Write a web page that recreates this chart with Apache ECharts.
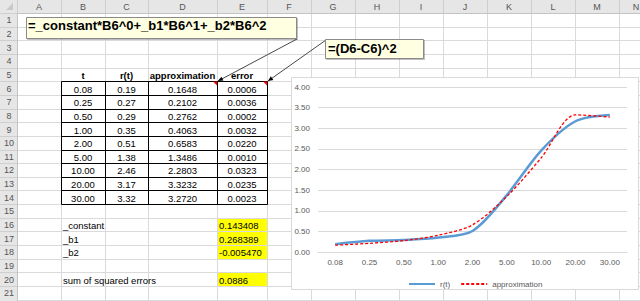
<!DOCTYPE html>
<html><head><meta charset="utf-8">
<script src="https://cdn.jsdelivr.net/npm/echarts@6/dist/echarts.min.js"></script>
<style>html,body{margin:0;padding:0;background:#fff}#c{width:640px;height:301px}</style>
</head><body><div id="c"></div>
<script>
// ---- data ----
const tValues = ['0.08','0.25','0.50','1.00','2.00','5.00','10.00','20.00','30.00'];
const rValues = [0.19,0.27,0.29,0.35,0.51,1.38,2.46,3.17,3.32];
const approxValues = [0.1648,0.2102,0.2762,0.4063,0.6583,1.3486,2.2803,3.3232,3.2720];
const errorValues = [0.0006,0.0036,0.0002,0.0032,0.0220,0.0010,0.0323,0.0235,0.0023];
const tableHeaders = ['t','r(t)','approximation','error'];
const paramLabels = ['_constant','_b1','_b2'];
const paramValues = ['0.143408','0.268389','-0.005470'];
const sseLabel = 'sum of squared errors';
const sseValue = '0.0886';
const seriesNames = ['r(t)','approximation'];
const formula1 = '=_constant*B6^0+_b1*B6^1+_b2*B6^2';
const formula2 = '=(D6-C6)^2';
const columnLetters = ['A','B','C','D','E','F','G','H','I','J','K','L','M','N'];

// ---- layout ----
const W = 640, H = 301;
const colEdges = [0,17,61,105,148,217,267,311,355,399,443,487,531,575,619,663];
const headerH = 13, rowH = 13.65, nRows = 22;
const rowTop = n => headerH + (n - 1) * rowH;
const colL = c => colEdges[c + 1]; // c: 0=A
const colR = c => colEdges[c + 2];
const cellFont = '9.5px "Liberation Sans", Arial, sans-serif';
const g = [];

g.push({type:'rect', shape:{x:0,y:0,width:W,height:H}, style:{fill:'#ffffff'}, silent:true});
// grid lines
for (let n = 1; n <= nRows; n++) {
  const y = Math.round(rowTop(n)) + 0.5;
  g.push({type:'line', shape:{x1:17,y1:y,x2:W,y2:y}, style:{stroke:'#dadada',lineWidth:1}, silent:true});
}
for (let i = 2; i < colEdges.length; i++) {
  const x = colEdges[i] + 0.5;
  g.push({type:'line', shape:{x1:x,y1:headerH,x2:x,y2:H}, style:{stroke:'#dadada',lineWidth:1}, silent:true});
}
// headers
g.push({type:'rect', shape:{x:0,y:0,width:W,height:headerH}, style:{fill:'#e6e6e6'}, silent:true});
g.push({type:'rect', shape:{x:0,y:0,width:17,height:H}, style:{fill:'#e6e6e6'}, silent:true});
g.push({type:'line', shape:{x1:0,y1:headerH+0.5,x2:W,y2:headerH+0.5}, style:{stroke:'#c4c4c4'}, silent:true});
g.push({type:'line', shape:{x1:17.5,y1:0,x2:17.5,y2:H}, style:{stroke:'#c4c4c4'}, silent:true});
g.push({type:'polygon', shape:{points:[[13,3],[13,10],[6,10]]}, style:{fill:'#c8c8c8'}, silent:true});
for (let i = 1; i < colEdges.length; i++) {
  const x = colEdges[i] + 0.5;
  g.push({type:'line', shape:{x1:x,y1:0,x2:x,y2:headerH}, style:{stroke:'#cfcfcf'}, silent:true});
}
columnLetters.forEach((L, c) => {
  const cx = Math.min((colL(c)+colR(c))/2, W - 4);
  g.push({type:'text', style:{text:L, x:cx, y:7, align:'center', verticalAlign:'middle', font:'9px "Liberation Sans", Arial, sans-serif', fill:'#555'}, silent:true});
});
for (let n = 1; n <= 21; n++) {
  g.push({type:'line', shape:{x1:0,y1:Math.round(rowTop(n))+0.5,x2:17,y2:Math.round(rowTop(n))+0.5}, style:{stroke:'#cfcfcf'}, silent:true});
  g.push({type:'text', style:{text:String(n), x:9, y:rowTop(n)+rowH/2+0.5, align:'center', verticalAlign:'middle', font:'9px "Liberation Sans", Arial, sans-serif', fill:'#555'}, silent:true});
}
// yellow cells
[16,17,18,20].forEach(n => {
  g.push({type:'rect', shape:{x:colL(4)+1,y:Math.round(rowTop(n))+1,width:colR(4)-colL(4)-1,height:Math.round(rowTop(n+1))-Math.round(rowTop(n))-1}, style:{fill:'#ffff00'}, silent:true});
});
// table header row 5
tableHeaders.forEach((h, i) => {
  const c = i + 1;
  g.push({type:'text', style:{text:h, x:(colL(c)+colR(c))/2, y:rowTop(5)+rowH/2+1, align:'center', verticalAlign:'middle', font:'bold '+cellFont, fill:'#000'}, silent:true});
});
// table body
const tableCols = [tValues, rValues.map(v=>v.toFixed(2)), approxValues.map(v=>v.toFixed(4)), errorValues.map(v=>v.toFixed(4))];
for (let r = 0; r < tValues.length; r++) {
  const n = 6 + r;
  tableCols.forEach((col, i) => {
    const c = i + 1;
    g.push({type:'text', style:{text:col[r], x:(colL(c)+colR(c))/2, y:rowTop(n)+rowH/2+1, align:'center', verticalAlign:'middle', font:cellFont, fill:'#000'}, silent:true});
  });
}
// table borders
{
  const x0 = colL(1)+0.5, x1 = colR(4)+0.5;
  for (let n = 6; n <= 15; n++) {
    const y = Math.round(rowTop(n)) + 0.5;
    g.push({type:'line', shape:{x1:x0,y1:y,x2:x1,y2:y}, style:{stroke:'#000',lineWidth:1}, silent:true});
  }
  for (let c = 1; c <= 5; c++) {
    const x = colEdges[c+1] + 0.5;
    g.push({type:'line', shape:{x1:x,y1:Math.round(rowTop(6))+0.5,x2:x,y2:Math.round(rowTop(15))+0.5}, style:{stroke:'#000',lineWidth:1}, silent:true});
  }
}
// parameter labels
paramLabels.forEach((l, i) => {
  const n = 16 + i;
  g.push({type:'text', style:{text:l, x:colL(1)+2, y:rowTop(n)+rowH/2+1, align:'left', verticalAlign:'middle', font:cellFont, fill:'#000'}, silent:true});
  g.push({type:'text', style:{text:paramValues[i], x:colL(4)+2, y:rowTop(n)+rowH/2+1, align:'left', verticalAlign:'middle', font:cellFont, fill:'#000'}, silent:true});
});
g.push({type:'text', style:{text:sseLabel, x:colL(1)+2, y:rowTop(20)+rowH/2+1, align:'left', verticalAlign:'middle', font:cellFont, fill:'#000'}, silent:true});
g.push({type:'text', style:{text:sseValue, x:colL(4)+2, y:rowTop(20)+rowH/2+1, align:'left', verticalAlign:'middle', font:cellFont, fill:'#000'}, silent:true});
// comment indicators
[[217,81],[267,81]].forEach(p => {
  g.push({type:'polygon', shape:{points:[[p[0]-4,p[1]+0.5],[p[0],p[1]+0.5],[p[0],p[1]+4.5]]}, style:{fill:'#ff0000'}, silent:true});
});
// chart box
g.push({type:'rect', shape:{x:291.5,y:77.5,width:347,height:212}, style:{fill:'#ffffff',stroke:'#d9d9d9',lineWidth:1}, silent:true});
// comments
function arrow(x1,y1,x2,y2){
  g.push({type:'line', shape:{x1,y1,x2,y2}, style:{stroke:'#333',lineWidth:0.9}, silent:true});
  const a = Math.atan2(y2-y1,x2-x1), L = 5, w = 2.2;
  const bx = x2 - L*Math.cos(a), by = y2 - L*Math.sin(a);
  g.push({type:'polygon', shape:{points:[[x2,y2],[bx - w*Math.sin(a), by + w*Math.cos(a)],[bx + w*Math.sin(a), by - w*Math.cos(a)]]}, style:{fill:'#000'}, silent:true});
}
arrow(297,39,218,81);
arrow(326,40,268,81);
g.push({type:'rect', shape:{x:26.5,y:17.5,width:270,height:21}, style:{fill:'#ffffe1',stroke:'#8a8a8a',lineWidth:1,shadowColor:'rgba(0,0,0,0.25)',shadowOffsetX:1,shadowOffsetY:1,shadowBlur:1}, silent:true});
g.push({type:'text', style:{text:formula1, x:28, y:25.5, align:'left', verticalAlign:'middle', font:'bold 13px "Liberation Sans", Arial, sans-serif', fill:'#000'}, silent:true});
g.push({type:'rect', shape:{x:325.5,y:39.5,width:98,height:19}, style:{fill:'#ffffe1',stroke:'#8a8a8a',lineWidth:1,shadowColor:'rgba(0,0,0,0.25)',shadowOffsetX:1,shadowOffsetY:1,shadowBlur:1}, silent:true});
g.push({type:'text', style:{text:formula2, x:328, y:48.5, align:'left', verticalAlign:'middle', font:'bold 13px "Liberation Sans", Arial, sans-serif', fill:'#000'}, silent:true});

const chart = echarts.init(document.getElementById('c'), null, {renderer:'svg', width:W, height:H});
const labelFont = {fontFamily:'"Liberation Sans", Arial, sans-serif', fontSize:8, color:'#595959'};
chart.setOption({
  animation:false,
  graphic:{elements:g},
  grid:{left:318, right:13, top:87, bottom:49, containLabel:false},
  legend:{left:403, top:275, itemWidth:26, itemHeight:10, itemGap:10, z:10,
    itemStyle:{opacity:0},
    textStyle:labelFont, data:seriesNames},
  xAxis:{type:'category', data:tValues, boundaryGap:true, z:5,
    axisLine:{lineStyle:{color:'#d9d9d9'}}, axisTick:{show:false},
    axisLabel:Object.assign({margin:6, interval:0}, labelFont)},
  yAxis:{type:'value', min:0, max:4, interval:0.5, z:5,
    axisLine:{show:false}, axisTick:{show:false},
    splitLine:{lineStyle:{color:'#d9d9d9'}},
    axisLabel:Object.assign({margin:8, formatter:v=>v.toFixed(2)}, labelFont)},
  series:[
    {name:seriesNames[0], type:'line', data:rValues, smooth:0.3, symbol:'none', z:6,
      lineStyle:{color:'#5b9bd5', width:2.5}, itemStyle:{color:'#5b9bd5'}},
    {name:seriesNames[1], type:'line', data:approxValues, smooth:0.3, symbol:'none', z:7,
      lineStyle:{color:'#ff0000', width:1.3, type:[3,2]}, itemStyle:{color:'#ff0000'}}
  ]
});
</script></body></html>
